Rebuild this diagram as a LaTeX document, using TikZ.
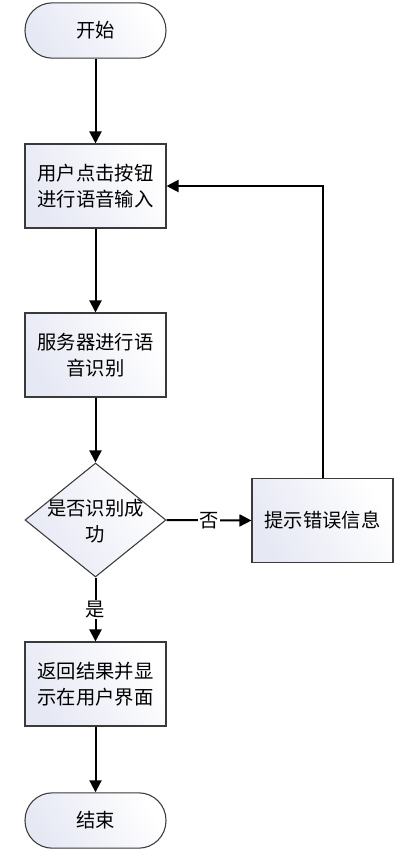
\documentclass[tikz,border=0pt]{standalone}
\usepackage{fontspec}
\setmainfont{Noto Sans CJK SC}
\usetikzlibrary{arrows.meta,shapes.geometric}
\definecolor{shadeA}{HTML}{E6E8F4}
\definecolor{edgegray}{HTML}{3A3A3A}
\tikzset{
  base/.style={draw=edgegray, line width=0.8pt, left color=shadeA, right color=white, shading angle=120,
    font=\fontsize{14.5pt}{19.5pt}\selectfont, align=center, inner sep=0pt},
  procbox/.style={base, rectangle, minimum width=105.75pt, minimum height=63pt},
  termbox/.style={base, rectangle, rounded corners=20.5pt, minimum width=105.75pt, minimum height=41.5pt},
  decbox/.style={base, diamond, minimum width=105.75pt, minimum height=85.5pt, shape aspect=1.24},
  flow/.style={line width=1.5pt, -{Triangle[length=9pt,width=9pt]}},
  lbl/.style={fill=white, inner sep=1pt, font=\fontsize{14.5pt}{17pt}\selectfont}
}
\begin{document}
\begin{tikzpicture}[x=0.75pt,y=-0.75pt]
\useasboundingbox (0,0) rectangle (402,858);
\node[termbox] (start) at (95.5,30.5) {开始};
\node[procbox] (input) at (95.5,186) {用户点击按钮\\进行语音输入};
\node[procbox] (asr) at (95.5,355) {服务器进行语\\音识别};
\node[decbox] (ok) at (95.5,520) {};
\node[align=center, inner sep=0pt, font=\fontsize{14.5pt}{19.5pt}\selectfont] (oktext) at (95.5,521) {是否识别成\\功};
\node[procbox] (err) at (322.5,520.5) {提示错误信息};
\node[procbox] (show) at (95.5,684) {返回结果并显\\示在用户界面};
\node[termbox] (finish) at (95.5,820.5) {结束};
\coordinate (corner) at (322.5,186);
\draw[flow] (start) -- (input);
\draw[flow] (input) -- (asr);
\draw[flow] (asr) -- (ok);
\draw[flow] (ok.east) -- node[lbl] (nolbl) {否} (err.west);
\draw[flow] (ok.south) -- node[lbl, pos=0.5] (yeslbl) {是} (show.north);
\draw[flow] (show) -- (finish);
\draw[line width=1.5pt, -{Triangle[length=9pt,width=9pt]}] (err.north) -- (corner) -- (input.east);
\end{tikzpicture}
\end{document}
